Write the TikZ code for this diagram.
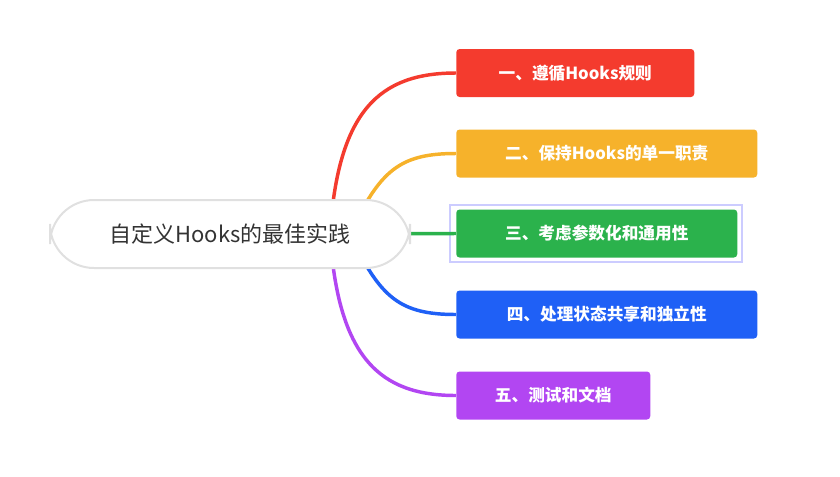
\documentclass[tikz,border=0pt]{standalone}
\usepackage{fontspec}
\newfontfamily\cjk{Noto Sans CJK SC}
\begin{document}
\begin{tikzpicture}[x=0.75pt,y=-0.75pt,
  br/.style={line width=2.6pt},
  leaf/.style={rounded corners=2.5pt,text=white,font=\cjk\bfseries\fontsize{12.5}{14}\selectfont,anchor=west,minimum height=36pt,inner xsep=7pt}]
\useasboundingbox (0,0) rectangle (840,476);
\definecolor{cr}{HTML}{F43B2E}\definecolor{co}{HTML}{F6B22B}\definecolor{cg}{HTML}{2BB24C}
\definecolor{cb}{HTML}{1F60F6}\definecolor{cp}{HTML}{B246F2}
\node[leaf,fill=cr,minimum width=178.5pt] (a) at (456,73) {一、遵循Hooks规则};
\node[leaf,fill=co,minimum width=225.75pt] (b) at (456,153.5) {二、保持Hooks的单一职责};
\draw[draw=blue!20,line width=1pt] (450,205) rectangle (742,262);
\node[leaf,fill=cg,minimum width=210.75pt] (c) at (456,233.5) {三、考虑参数化和通用性};
\node[leaf,fill=cb,minimum width=225.75pt] (d) at (456,314.5) {四、处理状态共享和独立性};
\node[leaf,fill=cp,minimum width=145.5pt] (e) at (456,395.5) {五、测试和文档};
\coordinate (s1) at (330,234); \coordinate (s2) at (350,234);
\draw[br,cr] (s1) .. controls (338,110) and (380,73) .. (a.west);
\draw[br,co] (s2) .. controls (380,170) and (400,153.5) .. (b.west);
\draw[br,cg] (s2) -- (c.west);
\draw[br,cb] (s2) .. controls (380,298) and (400,314.5) .. (d.west);
\draw[br,cp] (s1) .. controls (338,358) and (380,395.5) .. (e.west);
\node[draw=black!12,line width=1.5pt,fill=white,rounded corners=33pt,minimum width=270pt,minimum height=51pt,
  font=\cjk\fontsize{16.5}{18}\selectfont,text=black!80] (m) at (230,234) {自定义Hooks的最佳实践};
\end{tikzpicture}
\end{document}
